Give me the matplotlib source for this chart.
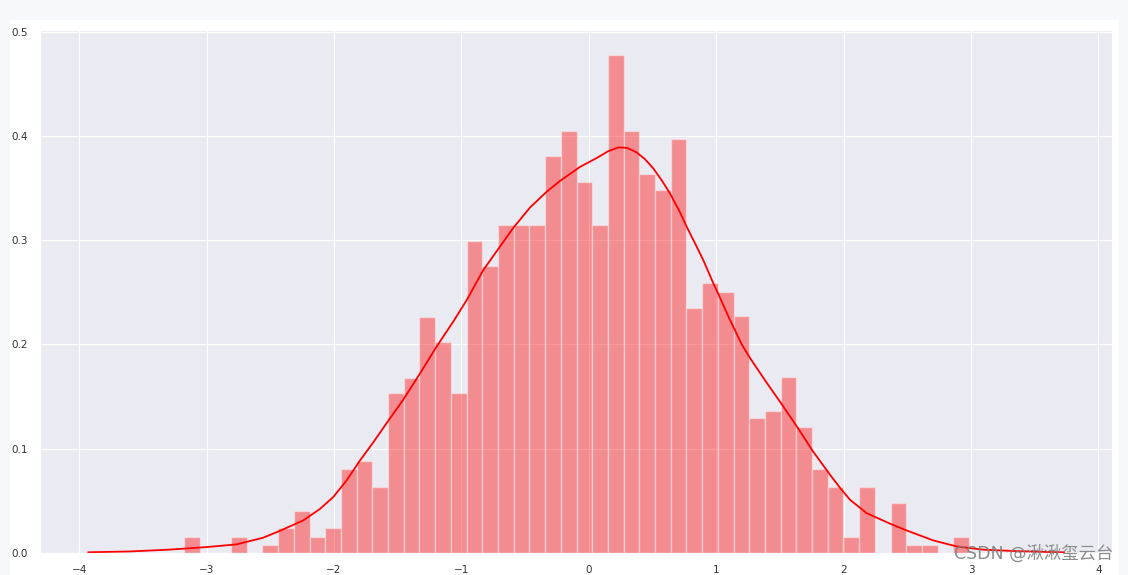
import numpy as np
import matplotlib
matplotlib.use("Agg")
import matplotlib.pyplot as plt
import seaborn as sns

# histogram: 50 equal bins between the sample min and max (density heights)
bin_lo = -3.178
bin_hi = 2.984
bar_heights = [0.0154, 0.0, 0.0, 0.0154, 0.0, 0.007, 0.0237, 0.0397, 0.0154, 0.0237,
               0.080, 0.0885, 0.0635, 0.153, 0.168, 0.226, 0.202, 0.153, 0.299, 0.275,
               0.315, 0.315, 0.315, 0.381, 0.405, 0.356, 0.315, 0.478, 0.405, 0.364,
               0.348, 0.397, 0.235, 0.259, 0.250, 0.227, 0.129, 0.1365, 0.169, 0.121,
               0.080, 0.0635, 0.0154, 0.0635, 0.0, 0.0477, 0.007, 0.007, 0.0, 0.0154]

# kde curve
kde_x = [-3.93, -3.6, -3.285, -3.0, -2.765, -2.556, -2.425, -2.242, -2.111, -2.006,
         -1.901, -1.797, -1.692, -1.587, -1.457, -1.326, -1.195, -1.064, -0.959, -0.829,
         -0.724, -0.593, -0.462, -0.331, -0.227, -0.07, 0.061, 0.15, 0.231, 0.3,
         0.375, 0.44, 0.506, 0.57, 0.637, 0.715, 0.768, 0.846, 0.898, 0.977,
         1.003, 1.108, 1.134, 1.2, 1.265, 1.383, 1.5, 1.631, 1.761, 1.892,
         1.97, 2.05, 2.18, 2.363, 2.494, 2.703, 2.887, 3.096, 3.358, 3.62, 3.73]
kde_y = [0.0004, 0.0012, 0.003, 0.0054, 0.008, 0.0144, 0.021, 0.031, 0.042, 0.0535,
         0.0695, 0.0885, 0.106, 0.1245, 0.147, 0.172, 0.198, 0.222, 0.2426, 0.2714,
         0.2895, 0.312, 0.3315, 0.3467, 0.357, 0.3705, 0.379, 0.3855, 0.3892, 0.3888,
         0.3845, 0.378, 0.369, 0.358, 0.345, 0.327, 0.313, 0.294, 0.281, 0.2587,
         0.252, 0.2234, 0.217, 0.2, 0.187, 0.1655, 0.145, 0.1215, 0.097, 0.075,
         0.0625, 0.0508, 0.038, 0.0279, 0.0214, 0.0118, 0.006, 0.0029, 0.0015, 0.0006, 0.0004]

x_ticks = [-4, -3, -2, -1, 0, 1, 2, 3, 4]
y_ticks = [0.0, 0.1, 0.2, 0.3, 0.4, 0.5]
watermark = "CSDN @湫湫玺云台"

sns.set_style("darkgrid")
plt.rcParams['font.family'] = ['DejaVu Sans', 'Noto Sans CJK SC']

fig = plt.figure(figsize=(11.28, 5.75), dpi=100, facecolor="#f7f8fc")
# white card behind the chart
fig.patches.append(plt.Rectangle((10 / 1128, 0), 1109 / 1128, 555 / 575,
                                 transform=fig.transFigure, facecolor="white",
                                 edgecolor="none", zorder=-10))
ax = fig.add_axes([40 / 1128, 22.3 / 575, 1072 / 1128, 522.7 / 575])

edges = np.linspace(bin_lo, bin_hi, len(bar_heights) + 1)
ax.bar(edges[:-1], bar_heights, width=np.diff(edges), align="edge",
       color="r", alpha=0.4, edgecolor="white", linewidth=1)
ax.plot(kde_x, kde_y, color="r", lw=1.3)

ax.set_xlim(-4.308, 4.106)
ax.set_ylim(0, 0.502)
ax.set_xticks(x_ticks)
ax.set_yticks(y_ticks)
ax.set_xticklabels([f"\u2212{abs(t)}" if t < 0 else str(t) for t in x_ticks])
ax.set_yticklabels([f"{t:.1f}" for t in y_ticks])
ax.tick_params(labelsize=7.5, colors="#333333", pad=5)

fig.text(1113 / 1128, 12 / 575, watermark, ha="right", va="bottom",
         fontsize=12.5, color="#808080", alpha=0.9,
         family=['DejaVu Sans', 'Noto Sans CJK SC'])

fig.savefig("out.png", dpi=100, facecolor=fig.get_facecolor())
